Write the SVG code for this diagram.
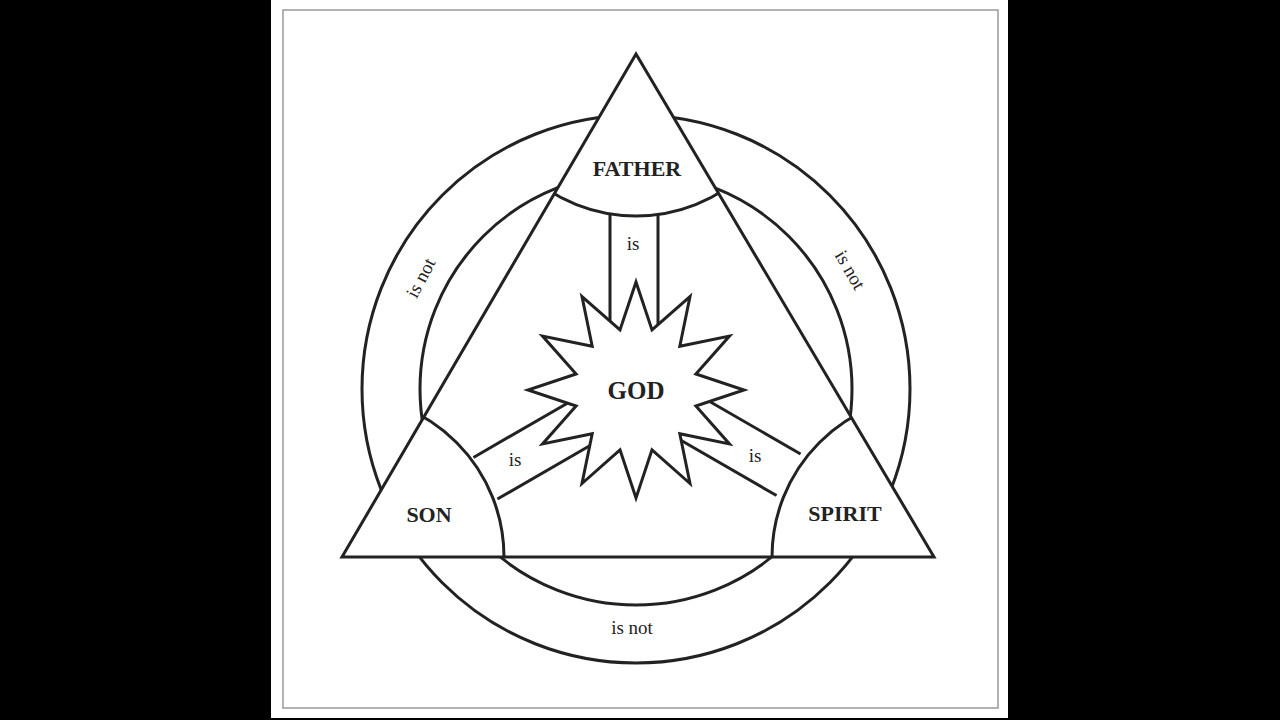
<svg xmlns="http://www.w3.org/2000/svg" width="1280" height="720" viewBox="0 0 1280 720">
<style>
.l{fill:none;stroke:#222;stroke-width:3}
.w{fill:#fff;stroke:#222;stroke-width:3;stroke-linejoin:miter}
.t{font-family:"Liberation Serif",serif;fill:#222}
.b{font-weight:bold}
</style>
<defs>
<clipPath id="tri"><polygon points="636,54 342,557 934,557"/></clipPath>
</defs>
<rect width="1280" height="720" fill="#000"/>
<rect x="271" y="0" width="737" height="718" fill="#fff"/>
<rect x="283" y="10" width="715" height="698" fill="none" stroke="#999" stroke-width="1.5"/>
<g id="rings">
<circle class="l" cx="636" cy="389" r="274"/>
<circle class="l" cx="636" cy="389" r="216"/>
</g>
<g id="triangle">
<polygon class="w" points="636,54 342,557 934,557"/>
<g clip-path="url(#tri)">
<circle class="l" cx="636" cy="54" r="162"/>
<circle class="l" cx="342" cy="557" r="162"/>
<circle class="l" cx="934" cy="557" r="162"/>
</g>
</g>
<g id="connectors">
<path class="l" d="M610,214 V344 M658,214 V344"/>
<path class="l" d="M610,214 V344 M658,214 V344" transform="rotate(-120 636 389)"/>
<path class="l" d="M610,214 V344 M658,214 V344" transform="rotate(120 636 389)"/>
</g>
<g id="god">
<polygon class="w" points="636,282 652,330 690,296.5 679.8,346.2 729.5,336 695.9,374 744,390 695.9,406 729.5,444 679.8,433.8 690,483.5 652,449.9 636,498 620,449.9 582,483.5 592.2,433.8 542.5,444 576.1,406 528,390 576.1,374 542.5,336 592.2,346.2 582,296.5 620,330"/>
<text class="t b" x="636" y="399" font-size="25" text-anchor="middle">GOD</text>
</g>
<g id="father"><text class="t b" x="637" y="176" font-size="22" text-anchor="middle">FATHER</text></g>
<g id="son"><text class="t b" x="429" y="522" font-size="22" text-anchor="middle">SON</text></g>
<g id="spirit"><text class="t b" x="845" y="521" font-size="22" text-anchor="middle">SPIRIT</text></g>
<g id="labels" class="t" font-size="19" text-anchor="middle">
<text x="633" y="250">is</text>
<text x="515" y="466">is</text>
<text x="755" y="462">is</text>
<text x="421" y="284" transform="rotate(-62 421 278)">is not</text>
<text x="850" y="276" transform="rotate(60 850 270)">is not</text>
<text x="632" y="634">is not</text>
</g>
</svg>
